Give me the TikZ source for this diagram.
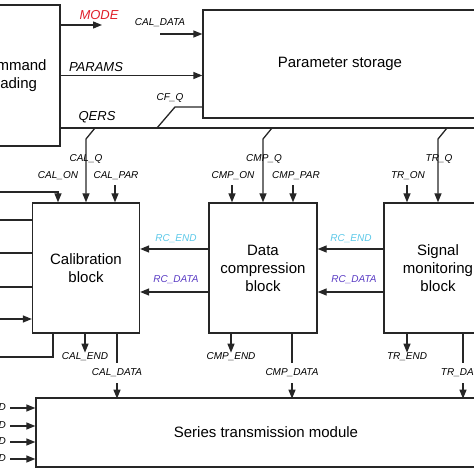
\documentclass[tikz,border=0pt]{standalone}
\usepackage{fontspec}
\setmainfont{Liberation Sans}
\usetikzlibrary{arrows.meta}
\definecolor{wire}{HTML}{262626}
\definecolor{modered}{HTML}{E0202A}
\definecolor{rccyan}{HTML}{5CC8E8}
\definecolor{rcpurple}{HTML}{5A3CC4}

\begin{document}
\begin{tikzpicture}[
  x=1pt, y=1pt,
  block/.style={rectangle, draw=wire, line width=1.3pt, inner sep=0pt, align=center, font=\fontsize{15}{18}\selectfont},
  sig/.style={inner sep=1pt, font=\fontsize{10}{12}\selectfont\itshape},
  bigsig/.style={inner sep=1pt, font=\fontsize{13}{15}\selectfont\itshape},
  gap/.style={sig, fill=white, inner ysep=6pt},
  wire/.style={draw=wire, line width=1.3pt},
  arr/.style={wire, -{Triangle[length=9pt,width=7pt]}}
]
\path[use as bounding box, clip] (0,0) rectangle (474,474);

\node[block, minimum width=96pt, minimum height=141pt] (cmd) at (12,398.5) {Command\\reading};
\node[block, minimum width=274pt, minimum height=108pt] (par) at (340,410) {Parameter storage};
\node[block, minimum width=107pt, minimum height=130pt] (cal) at (86,206) {Calibration\\block};
\node[block, minimum width=108pt, minimum height=130pt] (cmp) at (263,206) {Data\\compression\\block};
\node[block, minimum width=108pt, minimum height=130pt] (mon) at (438,206) {Signal\\monitoring\\block};
\node[block, minimum width=460pt, minimum height=69pt] (ser) at (266,41.5) {Series transmission module};

\coordinate (modeE) at (102,449);
\coordinate (cdS) at (160,440);
\coordinate (qersE) at (480,346);
\coordinate (cfA) at (175,367);
\coordinate (cfB) at (157,346);
\coordinate (calqA) at (95,346);
\coordinate (cmpqA) at (272,346);
\coordinate (trqA) at (447,346);
\coordinate (calonW) at (-10,282);
\coordinate (fbW) at (-10,117);

\draw[arr] (cmd.east |- modeE) -- (modeE);
\node[bigsig, text=modered] (modeL) at (99,459) {MODE};
\draw[arr] (cdS) -- (par.west |- cdS);
\node[sig] (cdL) at (160,451) {CAL\_DATA};
\draw[arr] (cmd.east) -- (par.west |- cmd.east);
\node[bigsig] (parL) at (96,407) {PARAMS};
\draw[wire] (cmd.east |- qersE) -- (qersE);
\node[bigsig] (qersL) at (97,357) {QERS};
\draw[wire] (par.west |- cfA) -- (cfA) -- (cfB);
\node[sig] (cfL) at (170,376) {CF\_Q};

\draw[arr] (calqA) -- ++(-9,-11) -- (cal.north);
\node[sig] (calqL) at (86,315) {CAL\_Q};
\draw[arr] (calonW) -| ([xshift=-28pt]cal.north);
\node[sig] (calonL) at (58,298) {CAL\_ON};
\draw[arr] ([xshift=29pt,yshift=17pt]cal.north) -- ([xshift=29pt]cal.north);
\node[sig] (calparL) at (116,298) {CAL\_PAR};

\draw[arr] (cmpqA) -- ++(-9,-11) -- (cmp.north);
\node[sig] (cmpqL) at (264,315) {CMP\_Q};
\draw[arr] ([xshift=-31pt,yshift=17pt]cmp.north) -- ([xshift=-31pt]cmp.north);
\node[sig] (cmponL) at (233,298) {CMP\_ON};
\draw[arr] ([xshift=30pt,yshift=17pt]cmp.north) -- ([xshift=30pt]cmp.north);
\node[sig] (cmpparL) at (296,298) {CMP\_PAR};

\draw[arr] (trqA) -- ++(-9,-11) -- (mon.north);
\node[sig] (trqL) at (439,315) {TR\_Q};
\draw[arr] ([xshift=-31pt,yshift=17pt]mon.north) -- ([xshift=-31pt]mon.north);
\node[sig] (tronL) at (408,298) {TR\_ON};

\draw[arr] ([yshift=19pt]cmp.west) -- ([yshift=19pt]cal.east);
\node[sig, text=rccyan] (rcend1L) at (176,235) {RC\_END};
\draw[arr] ([yshift=-24pt]cmp.west) -- ([yshift=-24pt]cal.east);
\node[sig, text=rcpurple] (rcdata1L) at (176,194) {RC\_DATA};
\draw[arr] ([yshift=19pt]mon.west) -- ([yshift=19pt]cmp.east);
\node[sig, text=rccyan] (rcend2L) at (351,235) {RC\_END};
\draw[arr] ([yshift=-24pt]mon.west) -- ([yshift=-24pt]cmp.east);
\node[sig, text=rcpurple] (rcdata2L) at (354,194) {RC\_DATA};

\draw[wire] ([yshift=48pt]cal.west) -- ++(-45,0);
\draw[wire] ([yshift=15pt]cal.west) -- ++(-45,0);
\draw[wire] ([yshift=-19pt]cal.west) -- ++(-45,0);
\draw[arr] ([yshift=-51pt,xshift=-45pt]cal.west) -- ([yshift=-51pt]cal.west);
\draw[wire] ([xshift=-33pt]cal.south) |- (fbW);

\draw[arr] ([xshift=-1pt]cal.south) -- ++(0,-19);
\node[sig] (calendL) at (85,117) {CAL\_END};
\draw[arr] ([xshift=31pt]cal.south) -- node[gap, pos=0.6] {CAL\_DATA} ++(0,-65);
\draw[arr] ([xshift=-32pt]cmp.south) -- ++(0,-19);
\node[sig] (cmpendL) at (231,117) {CMP\_END};
\draw[arr] ([xshift=29pt]cmp.south) -- node[gap, pos=0.6] {CMP\_DATA} ++(0,-65);
\draw[arr] ([xshift=-31pt]mon.south) -- ++(0,-19);
\node[sig] (trendL) at (407,117) {TR\_END};
\draw[arr] ([xshift=25pt]mon.south) -- node[gap, pos=0.6] {TR\_DATA} ++(0,-65);

\coordinate (in1) at (10,66);
\coordinate (in2) at (10,48);
\coordinate (in3) at (10,32);
\coordinate (in4) at (10,15);
\draw[arr] (in1) -- (ser.west |- in1);
\draw[arr] (in2) -- (ser.west |- in2);
\draw[arr] (in3) -- (ser.west |- in3);
\draw[arr] (in4) -- (ser.west |- in4);
\node[sig, anchor=east, inner sep=0pt] (in1L) at (6,66) {CAL\_END};
\node[sig, anchor=east, inner sep=0pt] (in2L) at (6,48) {CMP\_END};
\node[sig, anchor=east, inner sep=0pt] (in3L) at (6,32) {TR\_END};
\node[sig, anchor=east, inner sep=0pt] (in4L) at (6,15) {CMD\_END};
\end{tikzpicture}
\end{document}
